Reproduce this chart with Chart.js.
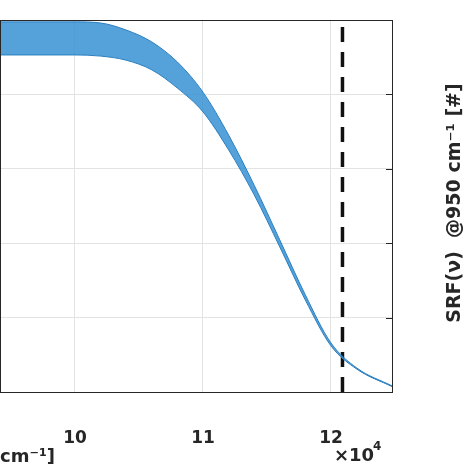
<!DOCTYPE html>
<html>
<head>
<script src="https://cdn.jsdelivr.net/npm/chart.js@4"></script>
<style>body{margin:0;background:#fff}#c{display:block}</style>
</head>
<body>
<canvas id="c" width="474" height="474"></canvas>
<script>
// wavenumber in units of 1e4 cm^-1, band envelope of the oscillating SRF
const waveX = [9.41, 10.0, 10.2, 10.4, 10.6, 10.8, 11.0, 11.2, 11.4, 11.6, 11.8, 12.0, 12.2, 12.48];
const upperSRF = [0.995, 0.995, 0.992, 0.973, 0.941, 0.887, 0.806, 0.691, 0.556, 0.409, 0.261, 0.132, 0.065, 0.016];
const lowerSRF = [0.906, 0.906, 0.903, 0.892, 0.866, 0.817, 0.753, 0.651, 0.530, 0.390, 0.247, 0.124, 0.062, 0.014];
const cutoffX = 12.09;
const xTicks = [10, 11, 12];
const yTicks = [0.2, 0.4, 0.6, 0.8];

const pts = (ys) => waveX.map((x, i) => ({ x: x, y: ys[i] }));

const frame = {
  id: "frame",
  afterDraw(chart) {
    const { ctx, chartArea: a } = chart;
    const ys = chart.scales.y;
    ctx.save();
    ctx.strokeStyle = "#262626";
    ctx.lineWidth = 1;
    ctx.strokeRect(a.left + 0.5, a.top + 0.5, a.right - a.left, a.bottom - a.top);
    // inward ticks on right border
    ctx.beginPath();
    yTicks.forEach((v) => {
      const y = Math.round(ys.getPixelForValue(v)) + 0.5;
      ctx.moveTo(a.right, y);
      ctx.lineTo(a.right - 6, y);
    });
    ctx.stroke();
    ctx.fillStyle = "#262626";
    ctx.font = "bold 18px 'DejaVu Sans'";
    ctx.textAlign = "left";
    ctx.fillText("\u00d710", 334, 461);
    ctx.font = "bold 12px 'DejaVu Sans'";
    ctx.fillText("4", 373, 450);
    ctx.font = "bold 18px 'DejaVu Sans'";
    ctx.textAlign = "right";
    ctx.fillText("Wavenumber [cm\u207b\u00b9]", 55, 462);
    ctx.translate(460, 203);
    ctx.rotate(-Math.PI / 2);
    ctx.textAlign = "center";
    ctx.font = "bold 19px 'DejaVu Sans'";
    ctx.fillText("SRF(\u03bd)  @950 cm\u207b\u00b9 [#]", 0, 0);
    ctx.restore();
  },
};

new Chart(document.getElementById("c"), {
  type: "scatter",
  data: {
    datasets: [
      { data: pts(upperSRF), showLine: true, borderColor: "#2a7fc0", borderWidth: 1, pointRadius: 0, cubicInterpolationMode: "monotone" },
      { data: pts(lowerSRF), showLine: true, borderColor: "#2a7fc0", borderWidth: 1, pointRadius: 0, cubicInterpolationMode: "monotone",
        fill: "-1", backgroundColor: "rgba(55,145,210,0.85)" },
      { data: [{ x: cutoffX, y: 0 }, { x: cutoffX, y: 1 }], showLine: true, borderColor: "#111",
        borderWidth: 3.5, borderDash: [15, 10], pointRadius: 0 },
    ],
  },
  options: {
    responsive: false,
    animation: false,
    layout: { padding: { top: 20, right: 82, left: 0, bottom: 0 } },
    plugins: { legend: { display: false }, tooltip: { enabled: false } },
    scales: {
      x: {
        type: "linear", min: 9.414, max: 12.477,
        afterBuildTicks: (s) => { s.ticks = xTicks.map((v) => ({ value: v })); },
        afterFit: (s) => { s.height = 82; },
        grid: { color: "#e3e3e3", tickLength: 0, drawTicks: false },
        border: { display: false },
        ticks: { padding: 36, color: "#262626", font: { family: "DejaVu Sans", size: 17, weight: "bold" } },
      },
      y: {
        min: 0, max: 1, display: true,
        afterFit: (s) => { s.width = 0; },
        grid: { color: "#e3e3e3", drawTicks: false },
        border: { display: false },
        ticks: { stepSize: 0.2, display: false },
      },
    },
  },
  plugins: [frame],
});
</script>
</body>
</html>
